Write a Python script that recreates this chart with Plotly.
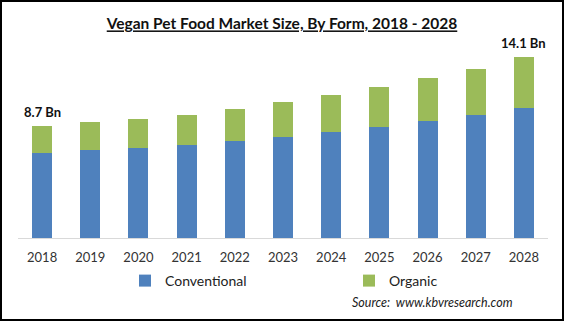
import plotly.graph_objects as go

# Market size (USD Bn) split by form
years = ["2018", "2019", "2020", "2021", "2022", "2023", "2024", "2025", "2026", "2027", "2028"]
conventional = [6.60, 6.86, 7.01, 7.24, 7.58, 7.87, 8.26, 8.65, 9.11, 9.60, 10.15]
organic = [2.10, 2.20, 2.26, 2.34, 2.47, 2.73, 2.88, 3.12, 3.35, 3.56, 3.95]
labelled_years = ["2018", "2028"]

BLUE = "#4F81BD"
GREEN = "#9BBB59"
FONT = "Lato"

W, H = 565, 322
L, R, T, B = 18, 17, 40, 84
plot_w = W - L - R
plot_h = H - T - B


def px_x(p):
    return (p - L) / plot_w


def px_y(p):
    return (H - B - p) / plot_h


fig = go.Figure()
fig.add_bar(x=years, y=conventional, name="Conventional", marker_color=BLUE,
            marker_line_width=0, legend="legend")
fig.add_bar(x=years, y=organic, name="Organic", marker_color=GREEN,
            marker_line_width=0, legend="legend2")

# total labels; on a category axis annotation x is the category's serial index
totals = [c + o for c, o in zip(conventional, organic)]
for yr in labelled_years:
    i = years.index(yr)
    fig.add_annotation(x=i, y=totals[i], text=f"<b>{totals[i]:.1f} Bn</b>",
                       showarrow=False, yanchor="bottom", yshift=4,
                       font=dict(family=FONT, size=13, color="#111111"))

# source note
fig.add_annotation(xref="paper", yref="paper", x=px_x(515), y=px_y(302),
                   xanchor="right", yanchor="middle", showarrow=False,
                   text="<i>Source:  www.kbvresearch.com</i>",
                   font=dict(family=FONT, size=12.5, color="#1a1a1a"))

# outer frame
fig.add_shape(type="rect", xref="paper", yref="paper",
              x0=px_x(1), x1=px_x(563), y0=px_y(1), y1=px_y(320),
              line=dict(color="black", width=2), fillcolor="rgba(0,0,0,0)",
              layer="above")

legend_style = dict(orientation="h", xanchor="left", yanchor="middle",
                    font=dict(family=FONT, size=14, color="#222222"),
                    bgcolor="rgba(0,0,0,0)")

fig.update_layout(
    width=W, height=H,
    margin=dict(l=L, r=R, t=T, b=B, pad=0),
    barmode="stack", bargap=0.585,
    plot_bgcolor="white", paper_bgcolor="white",
    title=dict(text="<b><u>Vegan Pet Food Market Size, By Form, 2018 - 2028</u></b>",
               x=282 / W, xanchor="center", y=1 - 24 / H, yanchor="middle",
               font=dict(family=FONT, size=15.5, color="#111111")),
    xaxis=dict(type="category", categoryorder="array", categoryarray=years,
               range=[-0.5, len(years) - 0.5],
               showline=True, linecolor="#D9D9D9", linewidth=1,
               ticks="", showgrid=False,
               tickfont=dict(family=FONT, size=13, color="#333333"),
               ticklabelstandoff=7, fixedrange=True),
    yaxis=dict(visible=False, range=[0, plot_h / 12.83], showgrid=False,
               zeroline=False),
    legend=dict(x=px_x(125), y=px_y(281), **legend_style),
    legend2=dict(x=px_x(349), y=px_y(281), **legend_style),
    showlegend=True,
)

fig.write_html("out.html")
